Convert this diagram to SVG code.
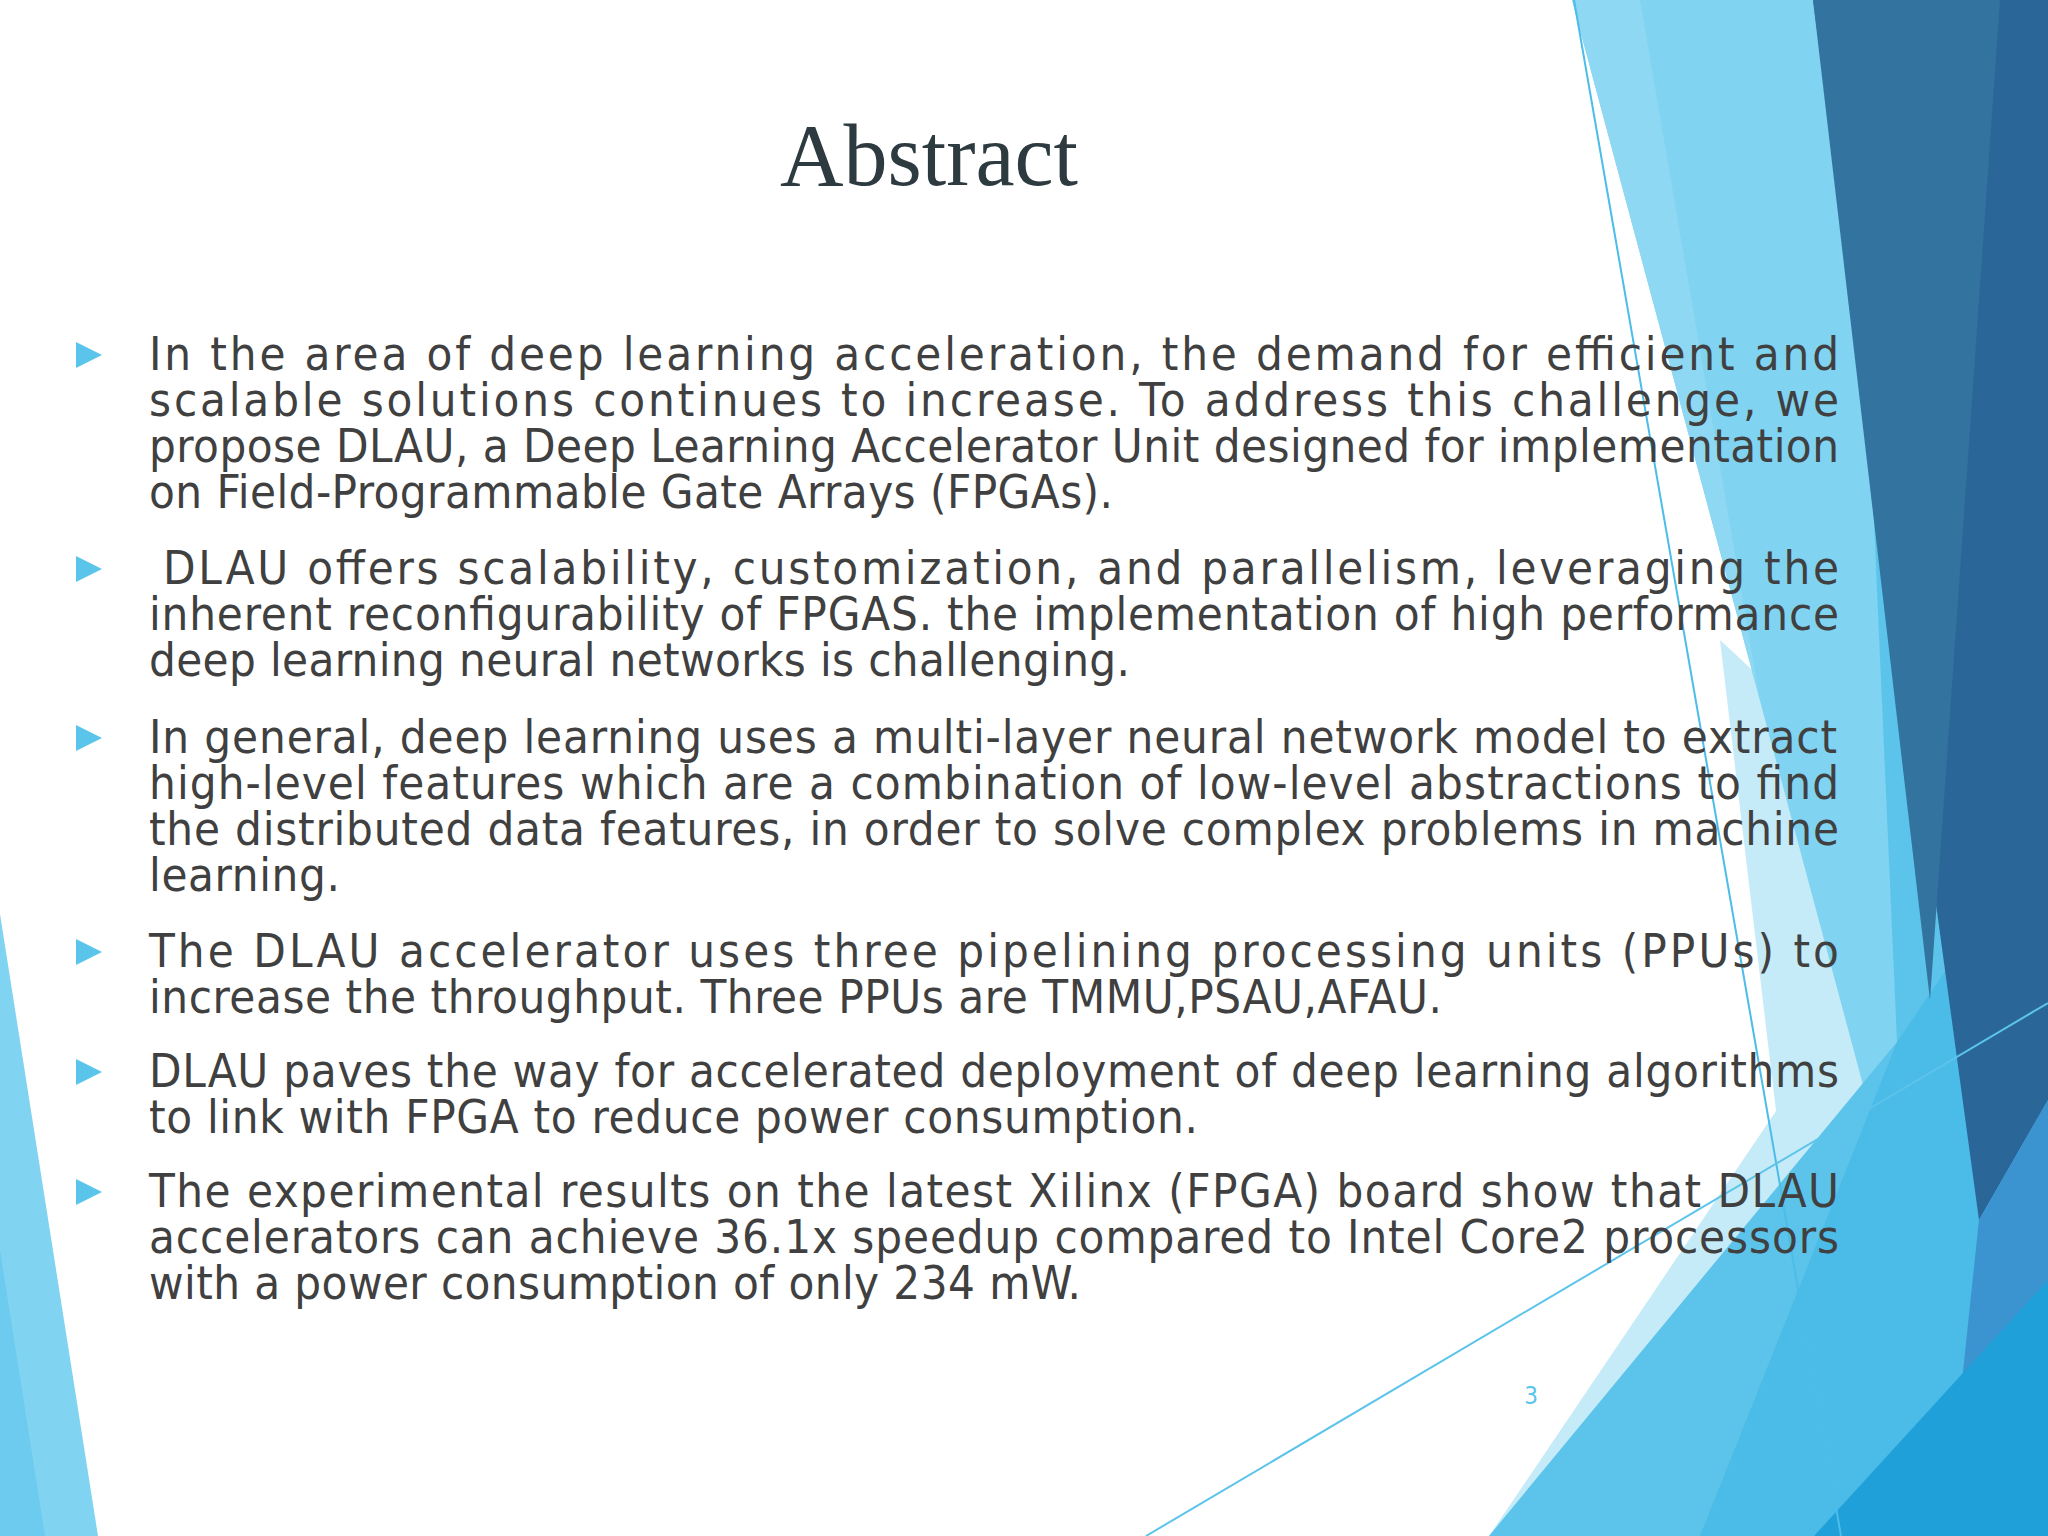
<svg xmlns="http://www.w3.org/2000/svg" width="2048" height="1536" viewBox="0 0 2048 1536">
<style>
.t{font-family:"DejaVu Sans Condensed","DejaVu Sans",sans-serif;font-size:47px;fill:#404040}
.b{fill:#5bc4ea}
</style>
<rect width="2048" height="1536" fill="#ffffff"/>
<g id="background">
<polygon points="1720,640 1776,1111 1489,1536 1900,1536 2000,900" fill="#c6ebf8"/>
<polygon points="1572,0 1813,0 2048,1536 1984,1536" fill="#80d3f1"/>
<polygon points="1572,0 1640,0 1760,700" fill="#8ed8f3"/>
<polygon points="1870,431 1897,1042 1489,1536 2048,1536 2048,431" fill="#5cc4ea"/>
<polygon points="1897,1042 2048,820 2048,1536 1700,1536" fill="#4bbbe8"/>
<polygon points="1813,0 2048,0 2048,1100 1979,1220" fill="#2b6698"/>
<polygon points="1813,0 2000,0 1930,1000" fill="#33739f"/>
<polygon points="1979,1220 2048,1100 2048,1300 1960,1400" fill="#3b93cf"/>
<polygon points="1814,1536 2048,1280 2048,1536" fill="#1fa0d8"/>
<line x1="1574" y1="0" x2="1841" y2="1536" stroke="#4cbce8" stroke-width="2"/>
<line x1="1146" y1="1536" x2="2048" y2="1003" stroke="#5cc4ea" stroke-width="2"/>
<polygon points="0,914 98,1536 0,1536" fill="#80d3f1"/>
<polygon points="0,1250 45,1536 0,1536" fill="#6ccbee"/>
</g>
<g id="title">
<text x="929" y="185" text-anchor="middle" font-family="Liberation Serif,serif" font-size="88" fill="#2d3a40">Abstract</text>
</g>
<g id="bullets">
<polygon class="b" points="76,342 102,355 76,368"/>
<polygon class="b" points="76,556 102,569 76,582"/>
<polygon class="b" points="76,725 102,738 76,751"/>
<polygon class="b" points="76,939 102,952 76,965"/>
<polygon class="b" points="76,1059 102,1072 76,1085"/>
<polygon class="b" points="76,1179 102,1192 76,1205"/>
</g>
<g id="body">
<text class="t" x="149" y="370" textLength="1690" lengthAdjust="spacing">In the area of deep learning acceleration, the demand for efficient and</text>
<text class="t" x="149" y="416" textLength="1690" lengthAdjust="spacing">scalable solutions continues to increase. To address this challenge, we</text>
<text class="t" x="149" y="462" textLength="1690" lengthAdjust="spacing">propose DLAU, a Deep Learning Accelerator Unit designed for implementation</text>
<text class="t" x="149" y="508" textLength="964" lengthAdjust="spacing">on Field-Programmable Gate Arrays (FPGAs).</text>
<text class="t" x="163" y="584" textLength="1676" lengthAdjust="spacing">DLAU offers scalability, customization, and parallelism, leveraging the</text>
<text class="t" x="149" y="630" textLength="1690" lengthAdjust="spacing">inherent reconfigurability of FPGAS. the implementation of high performance</text>
<text class="t" x="149" y="676" textLength="981" lengthAdjust="spacing">deep learning neural networks is challenging.</text>
<text class="t" x="149" y="753" textLength="1688" lengthAdjust="spacing">In general, deep learning uses a multi-layer neural network model to extract</text>
<text class="t" x="149" y="799" textLength="1690" lengthAdjust="spacing">high-level features which are a combination of low-level abstractions to find</text>
<text class="t" x="149" y="845" textLength="1690" lengthAdjust="spacing">the distributed data features, in order to solve complex problems in machine</text>
<text class="t" x="149" y="891" textLength="191" lengthAdjust="spacing">learning.</text>
<text class="t" x="149" y="967" textLength="1690" lengthAdjust="spacing">The DLAU accelerator uses three pipelining processing units (PPUs) to</text>
<text class="t" x="149" y="1013" textLength="1293" lengthAdjust="spacing">increase the throughput. Three PPUs are TMMU,PSAU,AFAU.</text>
<text class="t" x="149" y="1087" textLength="1690" lengthAdjust="spacing">DLAU paves the way for accelerated deployment of deep learning algorithms</text>
<text class="t" x="149" y="1133" textLength="1049" lengthAdjust="spacing">to link with FPGA to reduce power consumption.</text>
<text class="t" x="149" y="1207" textLength="1690" lengthAdjust="spacing">The experimental results on the latest Xilinx (FPGA) board show that DLAU</text>
<text class="t" x="149" y="1253" textLength="1690" lengthAdjust="spacing">accelerators can achieve 36.1x speedup compared to Intel Core2 processors</text>
<text class="t" x="149" y="1299" textLength="932" lengthAdjust="spacing">with a power consumption of only 234 mW.</text>
</g>
<g id="page-number">
<text x="1531" y="1404" text-anchor="middle" font-family="DejaVu Sans Condensed,sans-serif" font-size="24" fill="#5bc4ea">3</text>
</g>
</svg>
